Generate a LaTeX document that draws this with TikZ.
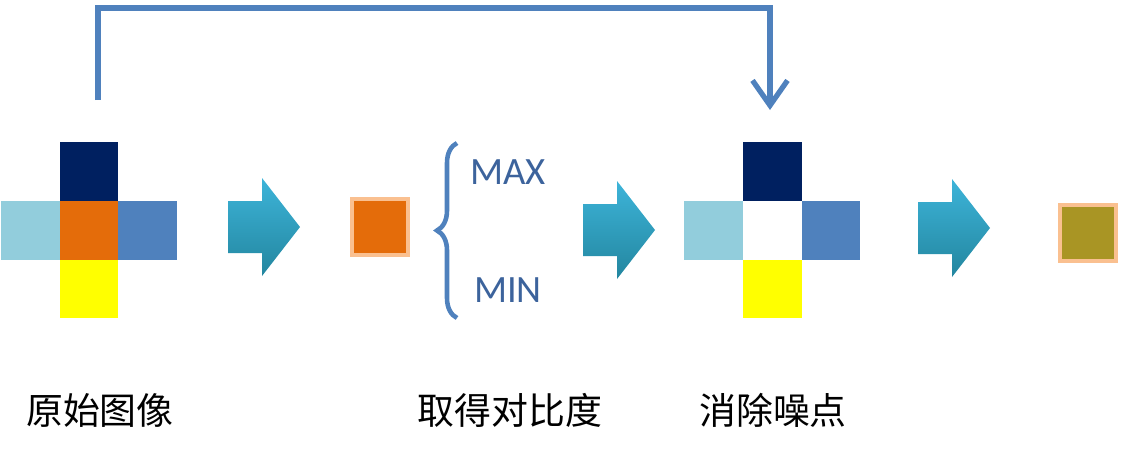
\documentclass[tikz,border=0pt]{standalone}
\usepackage{fontspec}
\setmainfont{Carlito}
\newfontfamily\cjk{Noto Sans CJK SC}
\usetikzlibrary{arrows.meta, positioning, decorations.pathreplacing}
\definecolor{navyc}{HTML}{002060}
\definecolor{lightc}{HTML}{92CDDC}
\definecolor{bluec}{HTML}{4F81BD}
\definecolor{orangec}{HTML}{E46C0A}
\definecolor{yellowc}{HTML}{FFFF00}
\definecolor{olivec}{HTML}{A99524}
\definecolor{rimc}{HTML}{FAC090}
\definecolor{linec}{HTML}{4F81BD}
\definecolor{textc}{HTML}{3C639C}
\definecolor{arrtop}{HTML}{3DB4D9}
\definecolor{arrbot}{HTML}{23869F}
\begin{document}
\begin{tikzpicture}[x=0.02cm, y=-0.02cm,
    cell/.style={rectangle, minimum size=1.18cm, inner sep=0pt, outer sep=0pt},
    pick/.style={rectangle, minimum size=1.12cm, inner sep=0pt, draw=rimc, line width=2.5pt},
    label/.style={font=\cjk\fontsize{21}{24}\selectfont},
    word/.style={font=\fontsize{22}{26}\selectfont, text=textc},
    link/.style={draw=linec, line width=3pt, -{Straight Barb[length=5mm, width=7mm, line width=3pt]}}
]
    \useasboundingbox (0,0) rectangle (1122,457);

    % original image
    \node[cell, fill=orangec] (c1) at (89,230) {};
    \node[cell, fill=navyc, above=0pt of c1] (t1) {};
    \node[cell, fill=lightc, left=0pt of c1] (l1) {};
    \node[cell, fill=bluec, right=0pt of c1] (r1) {};
    \node[cell, fill=yellowc, below=0pt of c1] (b1) {};

    % cleaned image
    \node[cell, fill=white] (c2) at (772,230) {};
    \node[cell, fill=navyc, above=0pt of c2] (t2) {};
    \node[cell, fill=lightc, left=0pt of c2] (l2) {};
    \node[cell, fill=bluec, right=0pt of c2] (r2) {};
    \node[cell, fill=yellowc, below=0pt of c2] (b2) {};

    % single pixels
    \node[pick, fill=orangec] (p1) at (380,227) {};
    \node[pick, fill=olivec] (p2) at (1088,233) {};

    % block arrows
    \foreach \x/\y in {228/227, 583/230, 918/228} {
        \shade[top color=arrtop, bottom color=arrbot]
            (\x,\y-26) -- (\x+34,\y-26) -- (\x+34,\y-49) -- (\x+72,\y)
            -- (\x+34,\y+49) -- (\x+34,\y+26) -- (\x,\y+26) -- cycle;
    }

    % brace
    \coordinate (bb) at (457,318);
    \coordinate (bt) at (457,143);
    \draw[linec, line width=2.6pt, decorate, decoration={brace, amplitude=0.4cm}] (bb) -- (bt);
    \node[word] (mx) at (508,172) {MAX};
    \node[word] (mn) at (508,290) {MIN};

    % labels
    \node[label] (n1) at (100,410) {原始图像};
    \node[label] (n2) at (510,410) {取得对比度};
    \node[label] (n3) at (773,410) {消除噪点};

    % skip connection
    \coordinate (s) at (98,100);
    \coordinate (e) at (770,110);
    \draw[link] (s) -- (98,8) -- (770,8) -- (e);
\end{tikzpicture}
\end{document}
